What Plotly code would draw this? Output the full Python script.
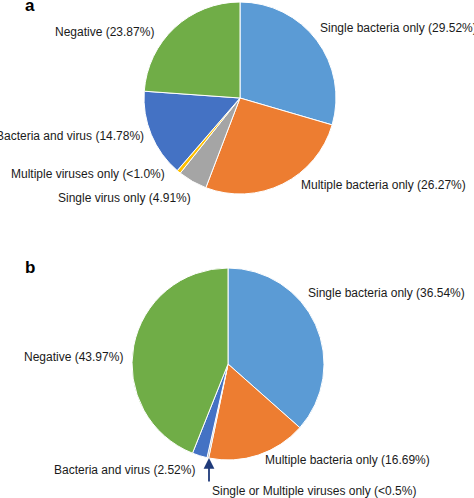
import plotly.graph_objects as go

W, H = 474, 498

# panel a
labels_a = ['Single bacteria only', 'Multiple bacteria only', 'Single virus only',
            'Multiple viruses only', 'Bacteria and virus', 'Negative']
values_a = [29.52, 26.27, 4.91, 0.65, 14.78, 23.87]
colors_a = ['#5B9BD5', '#ED7D31', '#A5A5A5', '#FFC000', '#4472C4', '#70AD47']

# panel b
labels_b = ['Single bacteria only', 'Multiple bacteria only', 'Single or Multiple viruses only',
            'Bacteria and virus', 'Negative']
values_b = [36.54, 16.69, 0.28, 2.52, 43.97]
colors_b = ['#5B9BD5', '#ED7D31', '#A5A5A5', '#4472C4', '#70AD47']


def px(x, y):
    # pixel (from top-left) -> paper coords
    return x / W, 1 - y / H


def dom(cx, cy, r):
    return dict(x=[(cx - r) / W, (cx + r) / W], y=[1 - (cy + r) / H, 1 - (cy - r) / H])


fig = go.Figure()
fig.add_trace(go.Pie(labels=labels_a, values=values_a, sort=False, direction='clockwise',
                     marker=dict(colors=colors_a, line=dict(color='white', width=1)),
                     textinfo='none', hoverinfo='label+percent', domain=dom(240, 98, 96),
                     showlegend=False))
fig.add_trace(go.Pie(labels=labels_b, values=values_b, sort=False, direction='clockwise',
                     marker=dict(colors=colors_b, line=dict(color='white', width=1)),
                     textinfo='none', hoverinfo='label+percent', domain=dom(228, 364, 96),
                     showlegend=False))

ann = []
txt_a = [
    ('Single bacteria only (29.52%)', 318, 28, 'left'),
    ('Multiple bacteria only (26.27%)', 299, 185, 'left'),
    ('Single virus only (4.91%)', 193, 198, 'right'),
    ('Multiple viruses only (<1.0%)', 167, 174, 'right'),
    ('Bacteria and virus (14.78%)', 146, 136, 'right'),
    ('Negative (23.87%)', 156, 32, 'right'),
]
txt_b = [
    ('Single bacteria only (36.54%)', 306, 293, 'left'),
    ('Multiple bacteria only (16.69%)', 263, 460, 'left'),
    ('Single or Multiple viruses only (<0.5%)', 210, 491, 'left'),
    ('Bacteria and virus (2.52%)', 197, 470, 'right'),
    ('Negative (43.97%)', 22, 357, 'left'),
]
for t, x, y, anc in txt_a + txt_b:
    xx, yy = px(x, y)
    ann.append(dict(text=t, x=xx, y=yy, xref='paper', yref='paper', xanchor=anc,
                    yanchor='middle', showarrow=False,
                    font=dict(size=12, color='#1a1a1a')))

for t, x, y in [('a', 30, 5), ('b', 30, 267)]:
    xx, yy = px(x, y)
    ann.append(dict(text='<b>%s</b>' % t, x=xx, y=yy, xref='paper', yref='paper',
                    xanchor='center', yanchor='middle', showarrow=False,
                    font=dict(size=17, color='black')))

# arrow pointing at the tiny virus slice in b
hx, hy = px(209, 458)
ann.append(dict(text='', x=hx, y=hy, ax=0, ay=25, xref='paper', yref='paper',
                showarrow=True, arrowhead=2, arrowsize=1.2, arrowwidth=1.8,
                arrowcolor='#1F3A7A'))

fig.update_layout(width=W, height=H, margin=dict(l=0, r=0, t=0, b=0),
                  paper_bgcolor='white', plot_bgcolor='white',
                  font=dict(family='Liberation Sans, Arial, sans-serif'),
                  annotations=ann)

# drop the default 8px page margin so the figure fills the window
fig.write_html('out.html', config={'displayModeBar': False},
               post_script="document.body.style.margin='0';")
